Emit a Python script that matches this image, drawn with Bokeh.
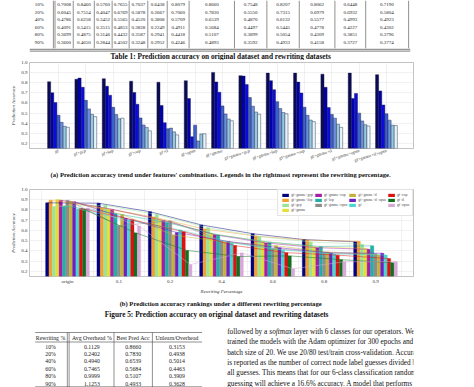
import numpy as np
from bokeh.plotting import figure
from bokeh.layouts import column
from bokeh.models import Range1d, FixedTicker, PrintfTickFormatter, Legend, LegendItem
from bokeh.core.properties import value
from bokeh.embed import file_html
from bokeh.resources import INLINE

SERIF = "Liberation Serif"
INK = "#222222"

# ---------------- data ----------------
rw_rows = ["10%", "20%", "40%", "60%", "80%", "90%"]
t1_r10 = [0.7008, 0.8460, 0.5760, 0.7655, 0.7037, 0.6438, 0.8079, 0.8660, 0.7548, 0.8207, 0.8062, 0.6448, 0.7190]
t1_r20 = [0.6045, 0.7554, 0.4047, 0.6769, 0.5878, 0.2667, 0.7060, 0.7830, 0.5550, 0.7315, 0.6979, 0.6932, 0.5804]
t1_r40 = [0.4786, 0.6258, 0.3452, 0.5565, 0.4520, 0.3808, 0.5709, 0.6539, 0.4870, 0.6132, 0.5577, 0.4993, 0.4923]
t1_r60 = [0.4091, 0.5415, 0.3515, 0.4853, 0.3828, 0.2249, 0.4911, 0.5684, 0.4497, 0.5445, 0.4778, 0.4227, 0.4302]
t1_r80 = [0.3699, 0.4875, 0.3146, 0.4432, 0.3587, 0.2941, 0.4418, 0.5107, 0.3899, 0.5054, 0.4309, 0.3851, 0.3796]
t1_r90 = [0.3600, 0.4650, 0.2844, 0.4502, 0.3248, 0.2952, 0.4246, 0.4893, 0.3592, 0.4933, 0.4158, 0.3727, 0.3774]
t1_rows = [t1_r10, t1_r20, t1_r40, t1_r60, t1_r80, t1_r90]

combos = ["gf", "gf+gcp", "gf+lop", "gf+cop", "gf+tl", "gf+opsn", "gf+gmme",
          "gf+gmme+gcp", "gf+gmme+lop", "gf+gmme+cop", "gf+gmme+tl",
          "gf+gmme+opsn", "gf+gmme+tl+opsn"]
origin_acc = [0.81, 0.835, 0.84, 0.815, 0.805, 0.82, 0.902, 0.87, 0.895, 0.895, 0.885, 0.895, 0.88]
table_col_of_combo = [0, 1, 3, 4, 2, 5, 6, 7, 9, 10, 8, 11, 12]

rates = ["origin", "0.1", "0.2", "0.4", "0.6", "0.8", "0.9"]
rate_colors = ["#0b0b55", "#0000b0", "#0c0ce0", "#3d62cc", "#6b8fdc", "#93cadf", "#e6f5fa"]

rank_order = ["gf+gmme+gcp", "gf+gmme+lop", "gf+gcp", "gf+gmme", "gf+gmme+cop", "gf+lop",
              "gf+gmme+opsn", "gf+gmme+tl", "gf+gmme+tl+opsn", "gf", "gf+cop", "gf+tl", "gf+opsn"]
combo_colors = {"gf+gmme+gcp": "#000080", "gf+gmme+lop": "#f4a030", "gf+gcp": "#9be39b",
                "gf+gmme": "#e3e03a", "gf+gmme+cop": "#a81ca8", "gf+lop": "#20b0a8",
                "gf+gmme+opsn": "#8c8c8c", "gf+gmme+tl": "#c4b23a", "gf+gmme+tl+opsn": "#7020c0",
                "gf": "#48d8d0", "gf+cop": "#e01010", "gf+tl": "#107020", "gf+opsn": "#d8a8d8"}

t2_header = ["Rewriting %", "Avg Overhead %", "Best Pred Acc", "Unlearn/Overhead"]
t2_overhead = ["0.1129", "0.2402", "0.4940", "0.7465", "0.9999", "1.1253"]
t2_best = ["0.8660", "0.7830", "0.6539", "0.5684", "0.5107", "0.4933"]
t2_ratio = ["0.3153", "0.4938", "0.5014", "0.4463", "0.3909", "0.3628"]

# accuracy per combo: [origin, 0.1, 0.2, 0.4, 0.6, 0.8, 0.9]
acc = {}
for i, c in enumerate(combos):
    col = table_col_of_combo[i]
    acc[c] = [origin_acc[i]] + [row[col] for row in t1_rows]


# ---------------- helpers ----------------
def text_fig(y0, y1):
    p = figure(width=474, height=y1 - y0, x_range=Range1d(0, 474), y_range=Range1d(y1, y0),
               toolbar_location=None, output_backend="svg", min_border=0,
               x_axis_location=None, y_axis_location=None)
    p.grid.visible = False
    p.outline_line_color = None
    return p


def put(p, xs, ys, texts, size, style="normal", align="center", color=INK, font=SERIF):
    p.text(x=xs, y=ys, text=texts, text_font=value(font), text_font_size=value(size),
           text_font_style=style, text_align=align, text_baseline="middle", text_color=color)


def style_chart(p):
    for ax in p.axis:
        ax.axis_line_color = None
        ax.major_tick_line_color = None
        ax.minor_tick_line_color = None
        ax.major_tick_out = 0
        ax.major_tick_in = 0
        ax.major_label_standoff = 2
        ax.major_label_text_font = SERIF
        ax.major_label_text_font_size = "5px"
        ax.major_label_text_color = "#333333"
        ax.axis_label_text_font = SERIF
        ax.axis_label_text_font_size = "4.8px"
        ax.axis_label_standoff = 2
        ax.axis_label_text_color = "#333333"
    p.outline_line_color = "#9a9a9a"
    p.outline_line_width = 0.6
    p.grid.grid_line_color = "#e2e2e2"
    p.grid.grid_line_width = 0.5
    p.yaxis.ticker = FixedTicker(ticks=[0.2, 0.3, 0.4, 0.5, 0.6, 0.7, 0.8, 0.9, 1.0])
    p.yaxis.formatter = PrintfTickFormatter(format="%.1f")
    p.yaxis.axis_label = "Prediction Accuracy"


# ---------------- Table 1 (top, cut) ----------------
top = text_fig(0, 60)
col_x = [42.7, 67, 91, 112.5, 134.5, 158, 183.5, 225, 273, 313, 355, 396, 441]
row_y = [4 + 7.6 * r for r in range(6)]
vx, vy, vt = [], [], []
for r, row in enumerate(t1_rows):
    for c, v in enumerate(row):
        vx.append(col_x[c]); vy.append(row_y[r]); vt.append(f"{v:.4f}")
put(top, vx, vy, vt, "5px")
put(top, [12] * 6, row_y, rw_rows, "5px")
vlines = [29.5, 31.5, 54, 80, 102, 123, 146, 170, 197, 253, 293, 333, 377, 415, 468]
top.segment(x0=vlines, y0=[0] * len(vlines), x1=vlines, y1=[47.8] * len(vlines),
            line_color="#444444", line_width=0.6)
top.segment(x0=[0, 0], y0=[48.8, 50.6], x1=[470, 470], y1=[48.8, 50.6],
            line_color="#444444", line_width=0.7)
put(top, [236], [55.5], ["Table 1: Prediction accuracy on original dataset and rewriting datasets"],
    "7.3px", "bold", color="#111111")

# ---------------- chart (a) ----------------
pa = figure(width=474, height=108, x_range=Range1d(-0.06, 13.99), y_range=Range1d(0.15, 1.0),
            min_border_left=29, min_border_right=61, min_border_top=2, min_border_bottom=14,
            toolbar_location=None, output_backend="svg")
centers_a = np.arange(1, len(combos) + 1)
wa = 0.114
rend_a = []
for k, rate in enumerate(rates):
    tops = [acc[c][k] for c in combos]
    r = pa.vbar(x=centers_a + (k - 3) * wa, top=tops, bottom=0, width=wa,
                fill_color=rate_colors[k], line_color="#15153a", line_width=0.4)
    rend_a.append(LegendItem(label=rate, renderers=[r]))
style_chart(pa)
pa.xaxis.ticker = FixedTicker(ticks=list(centers_a))
pa.xaxis.major_label_overrides = {int(i): c for i, c in zip(centers_a, combos)}
pa.xaxis.major_label_orientation = 0.3
pa.xaxis.major_label_text_font_size = "4.5px"
leg_a = Legend(items=rend_a, location=(388, 45), label_text_font=SERIF,
               label_text_font_size="4.5px", glyph_width=8, glyph_height=4, label_height=4,
               label_width=14, label_standoff=2, spacing=1, padding=2, margin=0,
               border_line_color="#c8c8c8", border_line_width=0.5, background_fill_alpha=1)
pa.add_layout(leg_a)

cap_a = text_fig(168, 180)
put(cap_a, [236], [173.5],
    ["(a) Prediction accuracy trend under features' combinations. Legends in the rightmost represent the rewriting percentage."],
    "6.6px", "bold", color="#111111")

# ---------------- chart (b) ----------------
pb = figure(width=474, height=116, x_range=Range1d(-0.74, 6.74), y_range=Range1d(0.15, 1.0),
            min_border_left=29, min_border_right=15, min_border_top=9, min_border_bottom=13,
            toolbar_location=None, output_backend="svg")
centers_b = np.arange(len(rates))
wb = 0.0656
items_b = []
for k, c in enumerate(rank_order):
    xs = centers_b + (k - 6) * wb
    r = pb.vbar(x=xs, top=acc[c], bottom=0, width=wb, fill_color=combo_colors[c],
                line_color=combo_colors[c], line_width=0.3)
    items_b.append(LegendItem(label=c, renderers=[r]))
for k, c in enumerate(rank_order):
    xs = centers_b + (k - 6) * wb
    pb.line(x=xs, y=acc[c], line_color=combo_colors[c], line_alpha=0.6, line_width=0.8)
style_chart(pb)
pb.xaxis.ticker = FixedTicker(ticks=list(centers_b))
pb.xaxis.major_label_overrides = {int(i): r for i, r in zip(centers_b, rates)}
pb.xaxis.axis_label = "Rewriting Percentage"
pb.xgrid.ticker = FixedTicker(ticks=[i + 0.5 for i in range(-1, 7)])
order = [0, 4, 7, 10, 1, 5, 8, 11, 2, 6, 9, 12, 3]
leg_b = Legend(items=[items_b[i] for i in order], location="top_right", orientation="horizontal",
               ncols=4, label_text_font=SERIF, label_text_font_size="3.7px",
               glyph_width=8, glyph_height=4, label_height=4, label_width=10,
               label_standoff=2, spacing=1, padding=3, margin=0,
               border_line_color="#c8c8c8", border_line_width=0.5)
pb.add_layout(leg_b)

cap_b = text_fig(296, 322)
put(cap_b, [236], [302.5], ["(b) Prediction accuracy rankings under a different rewriting percentage"],
    "6.6px", "bold", color="#111111")
put(cap_b, [231], [313.5], ["Figure 5: Prediction accuracy on original dataset and rewriting datasets"],
    "7.3px", "bold", color="#111111")

# ---------------- bottom: Table 2 + paragraph ----------------
bot = text_fig(322, 387)
t2_x = [26, 77, 128, 182]
put(bot, t2_x, [337] * 4, t2_header, "5.8px")
t2_y = [346 + 7.4 * r for r in range(6)]
for j, colvals in enumerate([rw_rows, t2_overhead, t2_best, t2_ratio]):
    put(bot, [t2_x[j]] * 6, t2_y, colvals, "5.8px")
bot.segment(x0=[7, 7, 7, 7], y0=[332, 341.5, 386.3, 388.1], x1=[213, 213, 213, 213],
            y1=[332, 341.5, 386.3, 388.1], line_color="#444444", line_width=0.6)
t2_v = [46.7, 48.9, 104.3, 151.7]
bot.segment(x0=t2_v, y0=[332] * 4, x1=t2_v, y1=[387] * 4, line_color="#444444", line_width=0.6)

fs = 7.3
px0 = 244
para_y = [331 + 10.3 * i for i in range(6)]
x_soft = px0 + 5.749 * fs * 1.24
x_after = x_soft + 3.111 * fs * 1.32
put(bot, [px0], [para_y[0]], ["followed by a"], f"{fs}px", align="left", color="#111111")
put(bot, [x_soft], [para_y[0]], ["softmax"], f"{fs}px", style="italic", align="left", color="#111111")
put(bot, [x_after], [para_y[0]], ["layer with 6 classes for our operators. We"], f"{fs}px",
    align="left", color="#111111")
para_rest = ["trained the models with the Adam optimizer for 300 epochs and",
             "batch size of 20. We use 20/80 test/train cross-validation. Accuracy",
             "is reported as the number of correct node label guesses divided by",
             "all guesses. This means that for our 6-class classification random",
             "guessing will achieve a 16.6% accuracy. A model that performs"]
put(bot, [px0] * 5, para_y[1:], para_rest, f"{fs}px", align="left", color="#111111")

page = column(top, pa, cap_a, pb, cap_b, bot, spacing=0,
              styles={"position": "absolute", "left": "0px", "top": "0px"})
open("out.html", "w").write(file_html(page, INLINE))
